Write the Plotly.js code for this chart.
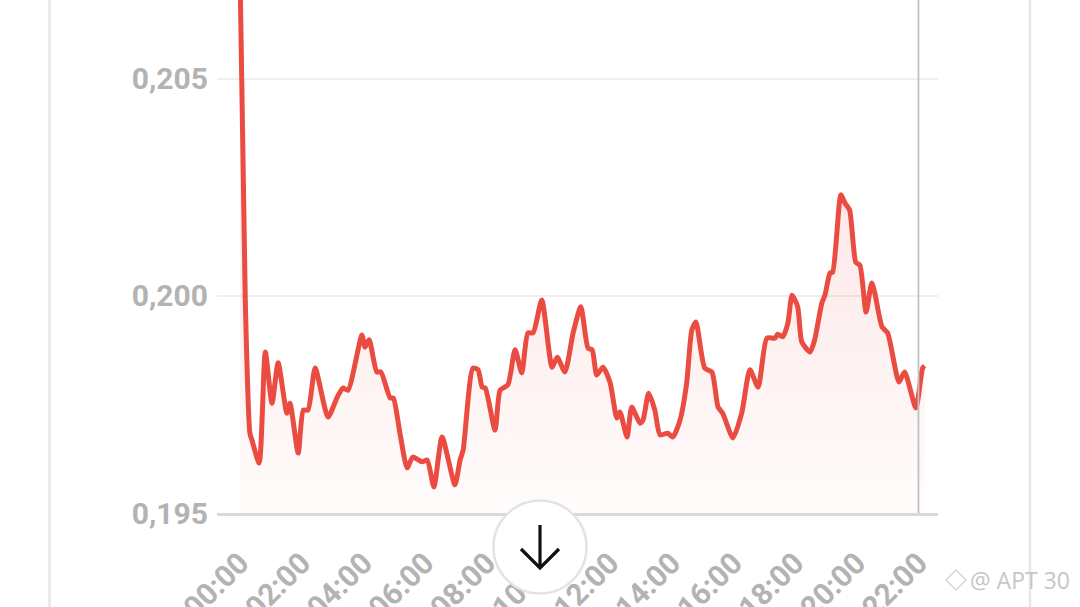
<!DOCTYPE html>
<html>
<head>
<meta charset="utf-8">
<script src="https://cdn.plot.ly/plotly-3.0.1.min.js"></script>
<style>
  html, body { margin: 0; padding: 0; background: #ffffff; }
  #chart { width: 1080px; height: 607px; }
</style>
</head>
<body>
<div id="chart"></div>
<script>
// ---- data ----
const day = "2024-01-01";
const times = [
  "00:00","00:10","00:19","00:23","00:37","00:49","01:02","01:14","01:31","01:37",
  "01:53","02:03","02:12","02:26","02:51","03:09","03:20","03:30","03:57","04:03",
  "04:11","04:26","04:34","04:52","04:58","05:11","05:25","05:36","05:54","06:04",
  "06:17","06:33","06:58","07:08","07:14","07:33","07:43","07:51","07:57","08:16",
  "08:26","08:41","08:55","09:08","09:20","09:30","09:47","10:07","10:17","10:32",
  "10:48","11:03","11:17","11:25","11:34","11:46","12:00","12:13","12:19","12:33",
  "12:42","12:58","13:04","13:15","13:27","13:37","13:52","14:02","14:16","14:29",
  "14:39","14:47","15:04","15:18","15:30","15:39","15:59","16:16","16:32","16:48",
  "17:05","17:21","17:26","17:36","17:46","17:54","18:05","18:13","18:29","18:38",
  "18:52","18:58","19:08","19:13","19:29","19:37","19:46","19:58","20:06","20:18",
  "20:29","20:35","20:49","21:00","21:22","21:33","21:55","22:08","22:12"
];
const prices = [
  0.20730,0.19991,0.19684,0.19668,0.19615,0.19871,0.19753,0.19846,0.19730,0.19753,
  0.19638,0.19737,0.19737,0.19834,0.19721,0.19767,0.19788,0.19783,0.19910,0.19882,
  0.19899,0.19825,0.19825,0.19765,0.19765,0.19684,0.19604,0.19629,0.19618,0.19622,
  0.19560,0.19675,0.19565,0.19622,0.19645,0.19834,0.19830,0.19790,0.19788,0.19691,
  0.19783,0.19795,0.19876,0.19823,0.19915,0.19915,0.19991,0.19836,0.19859,0.19825,
  0.19915,0.19975,0.19880,0.19876,0.19818,0.19836,0.19800,0.19719,0.19733,0.19675,
  0.19744,0.19707,0.19714,0.19776,0.19737,0.19680,0.19684,0.19675,0.19714,0.19800,
  0.19922,0.19940,0.19834,0.19825,0.19744,0.19730,0.19673,0.19730,0.19830,0.19790,
  0.19903,0.19903,0.19912,0.19906,0.19938,0.20002,0.19975,0.19894,0.19871,0.19899,
  0.19984,0.20002,0.20053,0.20055,0.20233,0.20214,0.20198,0.20078,0.20071,0.19963,
  0.20030,0.20007,0.19929,0.19915,0.19802,0.19825,0.19742,0.19834,0.19839
];
const xTickLabels = ["00:00","02:00","04:00","06:00","08:00","10:00","12:00","14:00","16:00","18:00","20:00","22:00"];
const yTickVals = [0.195, 0.200, 0.205];
const yTickLabels = ["0,195", "0,200", "0,205"];
const crosshairTime = "22:00";
const watermark = "@ APT 30";

// ---- helpers ----
const stamp = t => day + " " + t + ":00";
const W = 1080, H = 607;
const L = 217, R = 938, T = 0, B = 513;
const px = X => (X - L) / (R - L);
const py = Y => (B - Y) / (B - T);

const lineTrace = {
  type: "scatter",
  mode: "lines",
  x: times.map(stamp),
  y: prices,
  line: { color: "#ea4c41", width: 5, shape: "spline", smoothing: 0.6 },
  fill: "tozeroy",
  fillgradient: {
    type: "vertical",
    start: 0.195,
    stop: 0.2024,
    colorscale: [[0, "rgba(240,90,85,0.02)"], [1, "rgba(240,90,85,0.14)"]]
  },
  hoverinfo: "skip"
};

const tickFont = { family: "Roboto, 'DejaVu Sans', sans-serif", size: 30, color: "#b3b3b3", weight: 700 };

const layout = {
  width: W, height: H,
  margin: { l: L, r: W - R, t: T, b: H - B, pad: 0 },
  paper_bgcolor: "#ffffff",
  plot_bgcolor: "#ffffff",
  showlegend: false,
  hovermode: false,
  xaxis: {
    type: "date",
    range: ["2023-12-31 23:15:00", "2024-01-01 22:38:00"],
    tickmode: "array",
    tickvals: xTickLabels.map(stamp),
    ticktext: xTickLabels,
    tickangle: -45,
    tickfont: tickFont,
    showgrid: false,
    zeroline: false,
    showline: true,
    linecolor: "#dadada",
    linewidth: 2.5,
    ticks: "",
    ticklabelstandoff: 18,
    fixedrange: true
  },
  yaxis: {
    range: [0.195, 0.20682],
    tickmode: "array",
    tickvals: yTickVals,
    ticktext: yTickLabels,
    tickfont: tickFont,
    showgrid: true,
    gridcolor: "#efefef",
    gridwidth: 2.5,
    zeroline: false,
    showline: false,
    ticks: "",
    ticklabelstandoff: 8,
    fixedrange: true
  },
  shapes: [
    // card borders
    { type: "line", xref: "paper", yref: "paper", x0: px(49.5), x1: px(49.5), y0: py(0), y1: py(H), line: { color: "#e6e6e6", width: 2.5 } },
    { type: "line", xref: "paper", yref: "paper", x0: px(1030), x1: px(1030), y0: py(0), y1: py(H), line: { color: "#e6e6e6", width: 2.5 } },
    // crosshair
    { type: "line", xref: "x", yref: "paper", x0: stamp(crosshairTime), x1: stamp(crosshairTime), y0: 0, y1: 1, line: { color: "#c2c2c2", width: 1.8 } },
    // scroll-down button
    { type: "circle", xref: "paper", yref: "paper", layer: "above",
      x0: px(540 - 46.5), x1: px(540 + 46.5), y0: py(547 + 46.5), y1: py(547 - 46.5),
      fillcolor: "#ffffff", line: { color: "#e3e3e3", width: 2.5 } },
    { type: "path", xref: "paper", yref: "paper", layer: "above",
      path: "M" + px(540) + "," + py(525) + " L" + px(540) + "," + py(567) +
            " M" + px(521) + "," + py(549) + " L" + px(540) + "," + py(568) + " L" + px(559) + "," + py(549),
      line: { color: "#111111", width: 3.2 } },
    // watermark logo (diamond)
    { type: "path", xref: "paper", yref: "paper", layer: "above",
      path: "M" + px(946) + "," + py(580) + " L" + px(956) + "," + py(570) + " L" + px(966) + "," + py(580) + " L" + px(956) + "," + py(590) + " Z",
      fillcolor: "rgba(0,0,0,0)", line: { color: "#d8d8d8", width: 1.5 } }
  ],
  annotations: [
    { xref: "paper", yref: "paper", x: px(968), y: py(580), xanchor: "left", yanchor: "middle",
      text: watermark, showarrow: false,
      font: { family: "'Open Sans', sans-serif", size: 23, color: "#c6c6c6" } }
  ]
};

Plotly.newPlot("chart", [lineTrace], layout, { displayModeBar: false, staticPlot: true });
</script>
</body>
</html>
